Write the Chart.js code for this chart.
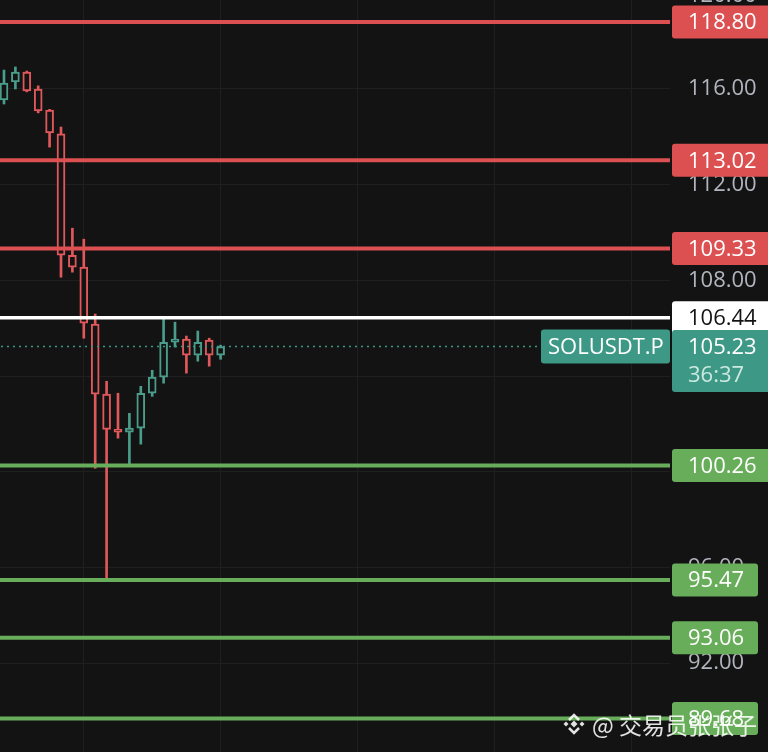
<!DOCTYPE html>
<html>
<head>
<meta charset="utf-8">
<script src="https://cdn.jsdelivr.net/npm/chart.js"></script>
<style>
  body { margin: 0; background: #131313; }
  #wrap { width: 768px; height: 752px; position: relative; }
</style>
</head>
<body>
<div id="wrap"><canvas id="Grafico"></canvas></div>
<script>
// velas (indice de vela, apertura, maximo, minimo, cierre)
const velas = [0, 1, 2, 3, 4, 5, 6, 7, 8, 9, 10, 11, 12, 13, 14, 15, 16, 17, 18, 19];
const aperturas = [115.54, 116.29, 116.71, 116.00, 115.12, 114.12, 109.05, 108.55, 106.17, 103.24, 101.77, 101.65, 101.82, 103.28, 103.95, 105.41, 105.54, 104.87, 105.50, 104.87];
const maximos   = [116.79, 116.92, 116.75, 116.13, 115.15, 114.41, 110.18, 109.72, 106.59, 103.78, 103.28, 102.44, 103.57, 104.24, 106.38, 106.25, 105.67, 105.88, 105.58, 105.29];
const minimos   = [115.37, 116.00, 115.88, 115.00, 113.57, 108.13, 108.34, 105.58, 100.14, 95.49, 101.40, 100.23, 101.15, 103.15, 103.70, 105.21, 104.12, 104.62, 104.41, 104.70];
const cierres   = [116.25, 116.71, 115.92, 115.08, 114.16, 109.05, 108.55, 106.21, 103.24, 101.77, 101.65, 101.82, 103.28, 103.95, 105.41, 105.54, 104.87, 105.41, 104.87, 105.23];

// niveles dibujados
const niveles_rojos = [118.80, 113.02, 109.33];
const nivel_blanco = 106.44;
const niveles_verdes = [100.26, 95.47, 93.06, 89.68];
const precio_actual = 105.23;
const cuenta_regresiva = '36:37';
const simbolo = 'SOLUSDT.P';
const marca_agua = '@ 交易员张张子';

// lineas verticales de la grilla (indice de vela)
const grilla_x = [7, 19, 31, 43, 55];
const etiqueta_extra = 120.00;

const ROJO = '#dc5052';
const VERDE = '#68ae5a';
const TEAL = '#3d9985';
const VELA_ROJA = '#e0585b';
const VELA_VERDE = '#4a9d8b';
const FONDO = '#131313';

const colores_vela = velas.map(i => cierres[i] >= aperturas[i] ? VELA_VERDE : VELA_ROJA);

function lineaNivel(valor, color, ancho, dash) {
    return {
        type: 'line',
        data: [{ x: -5, y: valor }, { x: 70, y: valor }],
        borderColor: color,
        borderWidth: ancho,
        borderDash: dash || [],
        pointRadius: 0,
        order: 0,
    };
}

function cajaRedonda(ctx, x, y, w, h, r) {
    ctx.beginPath();
    ctx.roundRect(x, y, w, h, r);
    ctx.fill();
}

const etiquetasPrecio = {
    id: 'etiquetasPrecio',
    afterDraw(chart) {
        const ctx = chart.ctx;
        const y = chart.scales.y;
        const x0 = chart.chartArea.right + 2;
        ctx.save();
        ctx.font = '22px "Open Sans"';
        ctx.textBaseline = 'middle';
        ctx.textAlign = 'left';

        // etiqueta cortada arriba
        ctx.fillStyle = '#b2b5be';
        ctx.fillText(etiqueta_extra.toFixed(2), 688, y.getPixelForValue(etiqueta_extra) + 2);

        const tag = (valor, fondo, texto, derecha) => {
            const py = y.getPixelForValue(valor);
            ctx.fillStyle = fondo;
            cajaRedonda(ctx, x0, py - 16.5, derecha - x0, 33, 3);
            ctx.fillStyle = texto;
            ctx.fillText(valor.toFixed(2), 688, py + 1);
        };

        niveles_rojos.forEach(v => tag(v, ROJO, '#ffffff', 772));
        tag(nivel_blanco, '#ffffff', '#131313', 772);
        niveles_verdes.forEach((v, i) => tag(v, VERDE, '#ffffff', i === 0 ? 772 : 758));

        // precio actual
        const pa = y.getPixelForValue(precio_actual);
        ctx.fillStyle = TEAL;
        cajaRedonda(ctx, x0, pa - 16.5, 772 - x0, 62, 3);
        ctx.fillStyle = '#ffffff';
        ctx.fillText(precio_actual.toFixed(2), 688, pa + 1);
        ctx.fillStyle = '#cde8e1';
        ctx.fillText(cuenta_regresiva, 688, pa + 29);

        ctx.fillStyle = TEAL;
        cajaRedonda(ctx, 541, pa - 17, chart.chartArea.right - 541, 34, 3);
        ctx.fillStyle = '#ffffff';
        ctx.fillText(simbolo, 548, pa + 1);

        // marca de agua
        ctx.globalAlpha = 0.88;
        ctx.fillStyle = '#ffffff';
        const cx = 574, cy = 724;
        const rombo = (x, yy, s) => {
            ctx.beginPath();
            ctx.moveTo(x, yy - s); ctx.lineTo(x + s, yy); ctx.lineTo(x, yy + s); ctx.lineTo(x - s, yy);
            ctx.closePath(); ctx.fill();
        };
        rombo(cx, cy, 3.5);
        rombo(cx - 8, cy, 2.5);
        rombo(cx + 8, cy, 2.5);
        ctx.strokeStyle = '#ffffff';
        ctx.lineWidth = 2.5;
        ctx.beginPath();
        ctx.moveTo(cx - 5, cy - 4); ctx.lineTo(cx, cy - 9); ctx.lineTo(cx + 5, cy - 4);
        ctx.moveTo(cx - 5, cy + 4); ctx.lineTo(cx, cy + 9); ctx.lineTo(cx + 5, cy + 4);
        ctx.stroke();
        ctx.font = '23px "Noto Sans CJK SC"';
        ctx.fillText(marca_agua, 592, cy + 1);
        ctx.restore();
    }
};

const ctx = document.getElementById('Grafico');

new Chart(ctx, {
    type: 'bar',
    data: {
        datasets: [
            lineaNivel(precio_actual, TEAL, 1.5, [2, 4]),
            ...niveles_rojos.map(v => lineaNivel(v, ROJO, 4)),
            lineaNivel(nivel_blanco, '#ffffff', 3.5),
            ...niveles_verdes.map(v => lineaNivel(v, VERDE, 4)),
            {
                label: 'cuerpos',
                data: velas.map(i => ({ x: i, y: [aperturas[i], cierres[i]] })),
                backgroundColor: FONDO,
                borderColor: colores_vela,
                borderWidth: 2,
                borderSkipped: false,
                barThickness: 8,
                grouped: false,
                order: 1,
            },
            {
                label: 'mechas',
                data: velas.map(i => ({ x: i, y: [minimos[i], maximos[i]] })),
                backgroundColor: colores_vela,
                borderWidth: 0,
                barThickness: 2,
                grouped: false,
                order: 2,
            },
        ]
    },
    options: {
        responsive: true,
        maintainAspectRatio: false,
        animation: false,
        layout: { padding: 0 },
        plugins: {
            legend: { display: false },
            tooltip: { enabled: false },
        },
        scales: {
            x: {
                type: 'linear',
                min: -0.35,
                max: 58.42,
                offset: false,
                grid: { color: '#1f1f1f', drawTicks: false, offset: false },
                border: { display: false },
                ticks: { display: false },
                afterBuildTicks: (s) => { s.ticks = grilla_x.map(v => ({ value: v })); },
                afterFit: (s) => { s.height = 0; s.paddingLeft = 0; s.paddingRight = 0; },
            },
            y: {
                position: 'right',
                min: 88.28,
                max: 119.72,
                grid: { color: '#1f1f1f', drawTicks: false },
                border: { display: false },
                ticks: {
                    stepSize: 4,
                    includeBounds: false,
                    padding: 18,
                    color: '#b2b5be',
                    font: { family: 'Open Sans', size: 22 },
                    callback: (v) => Number(v).toFixed(2),
                },
                afterFit: (s) => { s.width = 98; s.paddingTop = 0; s.paddingBottom = 0; },
            },
        },
    },
    plugins: [etiquetasPrecio],
});
</script>
</body>
</html>
